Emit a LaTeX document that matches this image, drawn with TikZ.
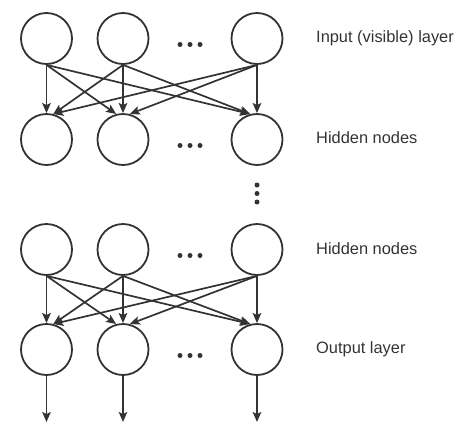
\documentclass[tikz,border=0pt]{standalone}
\usepackage{fontspec}
\setmainfont{Liberation Sans}
\usetikzlibrary{arrows.meta}
\tikzset{
  unit/.style={circle,draw=black!80,line width=1.8pt,minimum size=51pt,inner sep=0pt},
  conn/.style={draw=black!80,line width=1.7pt,-{Stealth[length=10pt,width=8.5pt,inset=2pt]}},
  layername/.style={anchor=west,inner sep=0pt,font=\fontsize{16.4}{20}\selectfont,text=black!80},
}
\begin{document}
\begin{tikzpicture}[x=1pt,y=-1pt]
  \useasboundingbox (0,0) rectangle (474,437);

  % units of the four layers
  \foreach \row/\y in {a/38.5,b/139.5,c/249.5,d/349.5}{
    \node[unit] (\row1) at (46.5,\y) {};
    \node[unit] (\row2) at (123,\y) {};
    \node[unit] (\row3) at (257,\y) {};
    \foreach \dx in {-10,0,10} \fill[black!80] (190+\dx,\y+6) circle (2.5);
  }
  \foreach \y in {185,193.5,202} \fill[black!80] (257,\y) circle (2.5);

  % full connections
  \foreach \s/\t in {a/b,c/d}{
    \draw[conn] (\s1.south) -- (\t1.north);
    \draw[conn] (\s1.south) -- (\t2.105);
    \draw[conn] (\s1.south) -- (\t3.105);
    \draw[conn] (\s2.south) -- (\t1.75);
    \draw[conn] (\s2.south) -- (\t2.north);
    \draw[conn] (\s2.south) -- (\t3.105);
    \draw[conn] (\s3.south) -- (\t1.75);
    \draw[conn] (\s3.south) -- (\t2.75);
    \draw[conn] (\s3.south) -- (\t3.north);
  }

  % outputs
  \coordinate (o1) at (46.5,422);
  \coordinate (o2) at (123,422);
  \coordinate (o3) at (257,422);
  \draw[conn] (d1.south) -- (o1);
  \draw[conn] (d2.south) -- (o2);
  \draw[conn] (d3.south) -- (o3);

  \node[layername] (lin) at (316,38) {Input (visible) layer};
  \node[layername] (lh1) at (316,138) {Hidden nodes};
  \node[layername] (lh2) at (316,249) {Hidden nodes};
  \node[layername] (lout) at (316,349) {Output layer};
\end{tikzpicture}
\end{document}
